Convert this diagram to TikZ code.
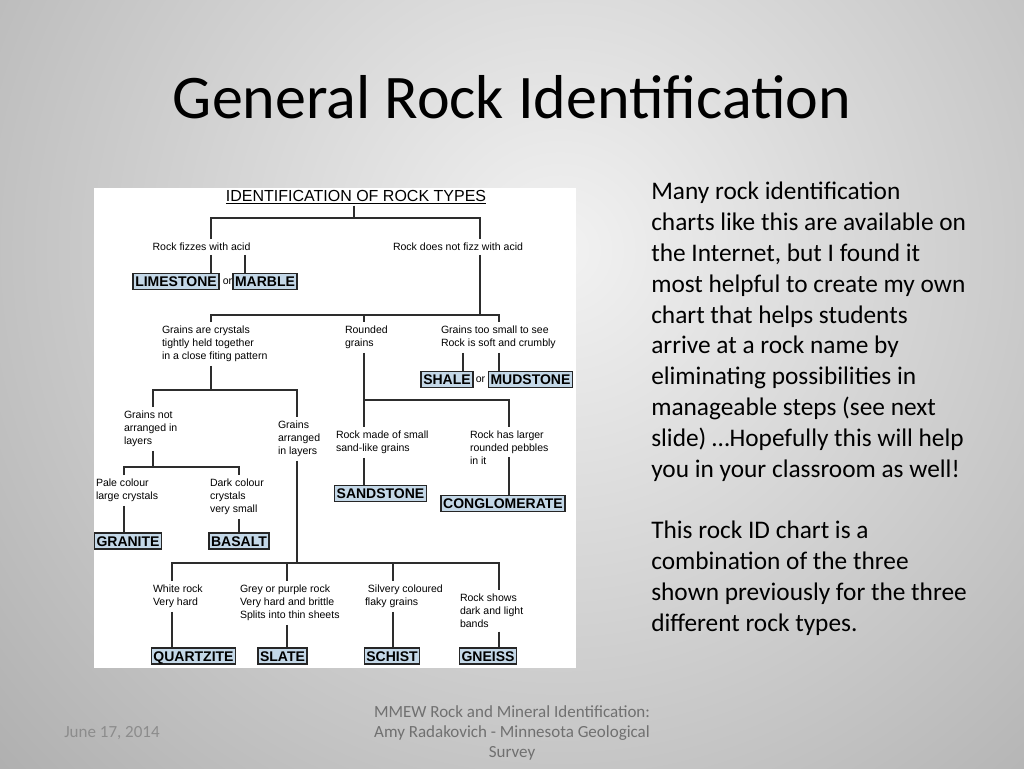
\documentclass[tikz,border=0pt]{standalone}
\usepackage{fontspec}
\setmainfont{Carlito}
\newfontfamily\chartfont{Liberation Sans}
\definecolor{boxblue}{RGB}{196,216,232}
\definecolor{linegray}{RGB}{45,45,45}
\definecolor{bginner}{RGB}{242,242,242}
\definecolor{bgouter}{RGB}{112,112,112}
\definecolor{footgray}{RGB}{112,112,112}
\definecolor{datgray}{RGB}{140,140,140}
\tikzset{
  lbl/.style={font=\chartfont\fontsize{7.9}{9.75}\selectfont, align=left, anchor=north west,
    inner sep=0pt, outer xsep=0pt, outer ysep=3pt, text=black},
  clbl/.style={font=\chartfont\fontsize{7.9}{9.75}\selectfont, inner sep=0pt, outer ysep=3pt, text=black},
  rockbox/.style={draw=black!85, line width=1pt, fill=boxblue,
    font=\chartfont\bfseries\fontsize{10.5}{11}\selectfont, inner xsep=1.6pt, inner ysep=2.1pt,
    text height=7.6pt, text depth=0pt, text=black},
  link/.style={draw=linegray, line width=1.1pt},
}
\begin{document}
\begin{tikzpicture}[x=0.75pt,y=-0.75pt]
\useasboundingbox (0,0) rectangle (1024,768);
\begin{scope}
\clip (0,0) rectangle (1024,768);
\shade[inner color=bginner, outer color=bgouter] (560,250) circle (1500);
\end{scope}

% slide title
\node[anchor=base, font=\fontsize{46.5}{50}\selectfont, inner sep=0pt] (title) at (512,118) {General Rock Identification};

% chart panel
\fill[white] (94,188) rectangle (576,668);
\node[font=\chartfont\fontsize{12}{13}\selectfont, inner sep=1pt, text=black] (ctitle) at (356,197) {\underline{IDENTIFICATION OF ROCK TYPES}};

% level 1
\node[clbl] (fizz) at (201.5,247) {Rock fizzes with acid};
\node[clbl] (nofizz) at (458,247) {Rock does not fizz with acid};
\node[rockbox] (limestone) at (176,281.5) {LIMESTONE};
\node[clbl] (or1) at (227.5,282) {or};
\node[rockbox] (marble) at (265,281.5) {MARBLE};

% level 2
\node[lbl] (crystals) at (162,322) {Grains are crystals\\tightly held together\\in a close fiting pattern};
\node[lbl] (rounded) at (345,322) {Rounded\\grains};
\node[lbl] (toosmall) at (441,322) {Grains too small to see\\Rock is soft and crumbly};
\node[rockbox] (shale) at (447,379.5) {SHALE};
\node[clbl] (or2) at (480.5,380) {or};
\node[rockbox] (mudstone) at (530.5,379.5) {MUDSTONE};

% sedimentary branch
\node[lbl] (sand) at (336,427) {Rock made of small\\sand-like grains};
\node[lbl] (pebbles) at (470,427) {Rock has larger\\rounded pebbles\\in it};
\node[rockbox] (sandstone) at (380.5,493.5) {SANDSTONE};
\node[rockbox] (conglomerate) at (503,503.5) {CONGLOMERATE};

% crystal branch
\node[lbl] (notlayers) at (124,407) {Grains not\\arranged in\\layers};
\node[lbl] (layers) at (278,417) {Grains\\arranged\\in layers};
\node[lbl] (pale) at (96,475) {Pale colour\\large crystals};
\node[lbl] (dark) at (210,475) {Dark colour\\crystals\\very small};
\node[rockbox] (granite) at (128,541) {GRANITE};
\node[rockbox] (basalt) at (239,541) {BASALT};

% metamorphic branch
\node[lbl] (white) at (153,581) {White rock\\Very hard};
\node[lbl] (grey) at (240,581) {Grey or purple rock\\Very hard and brittle\\Splits into thin sheets};
\node[lbl] (silvery) at (365,581) {\ Silvery coloured\\flaky grains};
\node[lbl] (bands) at (460,590) {Rock shows\\dark and light\\bands};
\node[rockbox] (quartzite) at (193.5,656) {QUARTZITE};
\node[rockbox] (slate) at (282.5,656) {SLATE};
\node[rockbox] (schist) at (392,656) {SCHIST};
\node[rockbox] (gneiss) at (488,656) {GNEISS};

% junction coordinates
\coordinate (b1) at (354,218);
\coordinate (b1L) at (211,218);
\coordinate (b1R) at (480,218);
\coordinate (mx) at (245,260);
\coordinate (b2L) at (211,315);
\coordinate (b2M) at (364,315);
\coordinate (b2N) at (480,315);
\coordinate (b2R) at (499,315);
\coordinate (sx) at (463,360);
\coordinate (b3L) at (364,400);
\coordinate (b3R) at (509,400);
\coordinate (pb) at (509,457);
\coordinate (b4C) at (211,390);
\coordinate (b4L) at (153,390);
\coordinate (b4R) at (297,390);
\coordinate (b5C) at (153,467);
\coordinate (b5L) at (124,467);
\coordinate (b5R) at (239,467);
\coordinate (b6C) at (297,563);
\coordinate (b6a) at (172,563);
\coordinate (b6b) at (287,563);
\coordinate (b6c) at (393,563);
\coordinate (b6d) at (499,563);

% connectors
\draw[link] (b1 |- ctitle.south) -- (b1);
\draw[link] (b1L |- fizz.north) -- (b1L) -- (b1R) -- (b1R |- nofizz.north);
\draw[link] (b1L |- fizz.south) -- (b1L |- limestone.north);
\draw[link] (mx |- fizz.south) -- (mx |- marble.north);
\draw[link] (b2N |- nofizz.south) -- (b2N);
\draw[link] (b2L |- crystals.north) -- (b2L) -- (b2R) -- (b2R |- toosmall.north);
\draw[link] (b2M) -- (b2M |- rounded.north);
\draw[link] (sx |- toosmall.south) -- (sx |- shale.north);
\draw[link] (b2R |- toosmall.south) -- (b2R |- mudstone.north);
\draw[link] (b3L |- rounded.south) -- (b3L |- sand.north);
\draw[link] (b3L) -- (b3R) -- (b3R |- pebbles.north);
\draw[link] (b3L |- sand.south) -- (b3L |- sandstone.north);
\draw[link] (pb) -- (b3R |- conglomerate.north);
\draw[link] (b4C |- crystals.south) -- (b4C);
\draw[link] (b4L |- notlayers.north) -- (b4L) -- (b4R) -- (b4R |- layers.north);
\draw[link] (b5C |- notlayers.south) -- (b5C);
\draw[link] (b5L |- pale.north) -- (b5L) -- (b5R) -- (b5R |- dark.north);
\draw[link] (b5L |- pale.south) -- (b5L |- granite.north);
\draw[link] (b5R |- dark.south) -- (b5R |- basalt.north);
\draw[link] (b6C |- layers.south) -- (b6C);
\draw[link] (b6a |- white.north) -- (b6a) -- (b6d) -- (b6d |- bands.north);
\draw[link] (b6b) -- (b6b |- grey.north);
\draw[link] (b6c) -- (b6c |- silvery.north);
\draw[link] (b6a |- white.south) -- (b6a |- quartzite.north);
\draw[link] (b6b |- grey.south) -- (b6b |- slate.north);
\draw[link] (b6c |- silvery.south) -- (b6c |- schist.north);
\draw[link] (b6d |- bands.south) -- (b6d |- gneiss.north);

% side text
\node[anchor=north west, align=left, inner sep=0pt, font=\fontsize{19}{23.1}\selectfont] (blurb) at (651,182)
{Many rock identification\\charts like this are available on\\the Internet, but I found it\\most helpful to create my own\\chart that helps students\\arrive at a rock name by\\eliminating possibilities in\\manageable steps (see next\\slide) …Hopefully this will help\\you in your classroom as well!\\[23.1pt]This rock ID chart is a\\combination of the three\\shown previously for the three\\different rock types.};

% footer
\node[font=\fontsize{12.75}{15}\selectfont, text=datgray, inner sep=0pt] (date) at (112,733) {June 17, 2014};
\node[font=\fontsize{12.75}{15}\selectfont, text=footgray, align=center, inner sep=0pt] (foot) at (512,733)
{MMEW Rock and Mineral Identification:\\Amy Radakovich - Minnesota Geological\\Survey};
\end{tikzpicture}
\end{document}
